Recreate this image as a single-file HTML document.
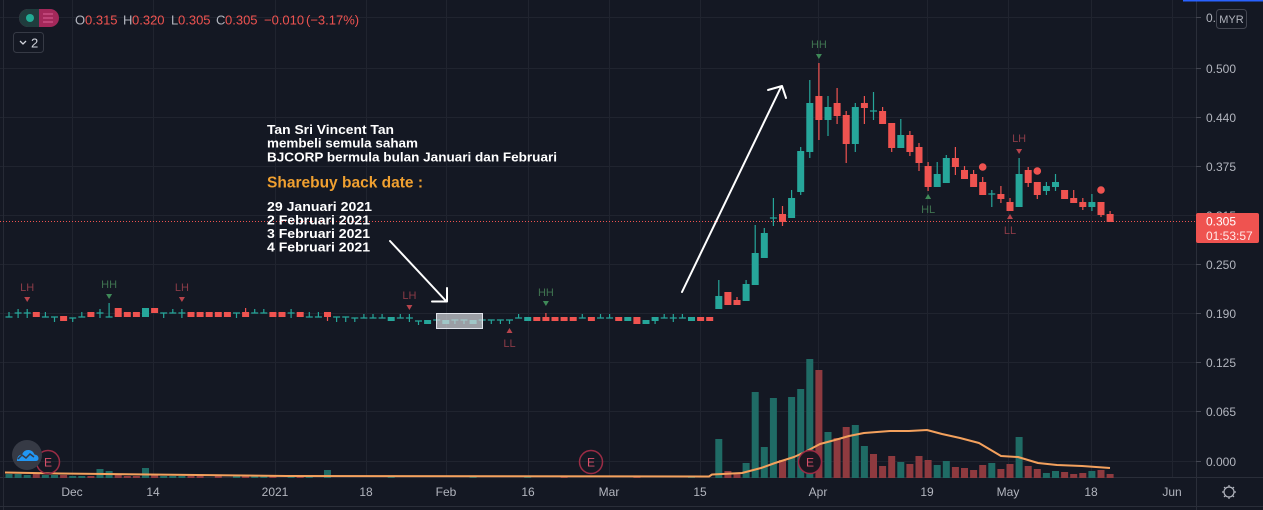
<!DOCTYPE html>
<html><head><meta charset="utf-8"><style>
html,body{margin:0;padding:0;background:#141823;}
svg{display:block;font-family:"Liberation Sans",sans-serif;}
</style></head><body>
<svg width="1263" height="510" viewBox="0 0 1263 510" xmlns="http://www.w3.org/2000/svg">
<rect width="1263" height="510" fill="#141823"/>
<!-- grid -->
<g stroke="#20242f" stroke-width="1">
<path d="M0 17.5H1196M0 68.5H1196M0 117.5H1196M0 166.5H1196M0 215.5H1196M0 264.5H1196M0 313.5H1196M0 362.5H1196M0 411.5H1196M0 461.5H1196"/>
<path d="M72.5 0V477M153.5 0V477M275.5 0V477M366.5 0V477M446.5 0V477M528.5 0V477M609.5 0V477M700.5 0V477M818.5 0V477M927.5 0V477M1008.5 0V477M1091.5 0V477M1172.5 0V477"/>
</g>
<path d="M3.5 0V510" stroke="#262a35" stroke-width="1"/>
<!-- axes borders -->
<path d="M1196.5 0V510M0 477.5H1263M0 506.5H1263" stroke="#2a2e39" stroke-width="1"/>
<path d="M1183 0.5H1263" stroke="#2962ff" stroke-width="2"/>
<!-- price ticks -->
<path d="M1196 17.5h5M1196 68.5h5M1196 117.5h5M1196 166.5h5M1196 215.5h5M1196 264.5h5M1196 313.5h5M1196 362.5h5M1196 411.5h5M1196 461.5h5" stroke="#434651"/>
<g fill="#b2b5be" font-size="12">
<text x="1206" y="22">0.</text>
<text x="1206" y="73">0.500</text>
<text x="1206" y="122">0.440</text>
<text x="1206" y="171">0.375</text>
<text x="1206" y="220">0.315</text>
<text x="1206" y="269">0.250</text>
<text x="1206" y="318">0.190</text>
<text x="1206" y="367">0.125</text>
<text x="1206" y="416">0.065</text>
<text x="1206" y="466">0.000</text>
</g>
<rect x="1216.5" y="9.5" width="30" height="19" rx="3" fill="#141823" stroke="#434651"/>
<text x="1231.5" y="23" font-size="11" fill="#b2b5be" text-anchor="middle">MYR</text>
<!-- time labels -->
<g fill="#b2b5be" font-size="12" text-anchor="middle">
<text x="72" y="496">Dec</text>
<text x="153" y="496">14</text>
<text x="275" y="496">2021</text>
<text x="366" y="496">18</text>
<text x="446" y="496">Feb</text>
<text x="528" y="496">16</text>
<text x="609" y="496">Mar</text>
<text x="700" y="496">15</text>
<text x="818" y="496">Apr</text>
<text x="927" y="496">19</text>
<text x="1008" y="496">May</text>
<text x="1091" y="496">18</text>
<text x="1172" y="496">Jun</text>
</g>
<!-- gear -->
<g stroke="#b2b5be" stroke-width="1.2" fill="none">
<circle cx="1229" cy="492" r="5"/>
<path d="M1229 485v2M1229 497v2M1222 492h2M1234 492h2M1224 487l1.4 1.4M1232.6 495.6l1.4 1.4M1234 487l-1.4 1.4M1225.4 495.6l-1.4 1.4"/>
</g>
<!-- volume bars -->
<g fill="#1f6b65">
<rect x="5.5" y="474" width="7" height="4"/><rect x="14.6" y="474" width="7" height="4"/><rect x="23.7" y="475" width="7" height="3"/><rect x="41.9" y="475" width="7" height="3"/><rect x="51" y="475" width="7" height="3"/><rect x="69.2" y="476" width="7" height="2"/><rect x="78.3" y="476" width="7" height="2"/><rect x="96.5" y="469" width="7" height="9"/><rect x="105.6" y="471" width="7" height="7"/><rect x="142" y="468" width="7" height="10"/><rect x="160.2" y="476" width="7" height="2"/><rect x="169.3" y="476" width="7" height="2"/><rect x="178.4" y="476" width="7" height="2"/><rect x="233" y="476" width="7" height="2"/><rect x="251.2" y="476" width="7" height="2"/><rect x="260.3" y="476" width="7" height="2"/><rect x="287.6" y="476" width="7" height="2"/><rect x="305.8" y="476" width="7" height="2"/><rect x="324" y="470" width="7" height="8"/><rect x="387.7" y="476" width="7" height="2"/><rect x="469.6" y="476" width="7" height="2"/><rect x="524.2" y="476" width="7" height="2"/><rect x="688" y="476" width="7" height="2"/>
<rect x="715.3" y="439" width="7" height="39"/><rect x="742.6" y="463" width="7" height="15"/><rect x="751.7" y="392" width="7" height="86"/><rect x="760.8" y="447" width="7" height="31"/><rect x="769.9" y="398" width="7" height="80"/><rect x="788.1" y="397" width="7" height="81"/><rect x="797.2" y="389" width="7" height="89"/><rect x="806.3" y="359" width="7" height="119"/><rect x="824.5" y="432" width="7" height="46"/><rect x="851.8" y="425" width="7" height="53"/><rect x="860.9" y="446" width="7" height="32"/><rect x="897.3" y="462" width="7" height="16"/><rect x="933.7" y="465" width="7" height="13"/><rect x="942.8" y="461" width="7" height="17"/><rect x="988.3" y="463" width="7" height="15"/><rect x="1015.6" y="437" width="7" height="41"/><rect x="1042.9" y="473" width="7" height="5"/><rect x="1052" y="471" width="7" height="7"/><rect x="1088.4" y="471" width="7" height="7"/>
</g>
<g fill="#8e3a3f">
<rect x="32.8" y="474" width="7" height="4"/><rect x="60.1" y="475" width="7" height="3"/><rect x="87.4" y="476" width="7" height="2"/><rect x="114.7" y="475" width="7" height="3"/><rect x="123.8" y="476" width="7" height="2"/><rect x="132.9" y="476" width="7" height="2"/><rect x="151.1" y="475" width="7" height="3"/><rect x="187.5" y="476" width="7" height="2"/><rect x="196.6" y="476" width="7" height="2"/><rect x="214.8" y="476" width="7" height="2"/><rect x="242.1" y="476" width="7" height="2"/><rect x="269.4" y="476" width="7" height="2"/><rect x="296.7" y="476" width="7" height="2"/><rect x="560.6" y="476" width="7" height="2"/><rect x="633.4" y="476" width="7" height="2"/>
<rect x="724.4" y="471" width="7" height="7"/><rect x="733.5" y="473" width="7" height="5"/><rect x="779" y="460" width="7" height="18"/><rect x="815.4" y="370" width="7" height="108"/><rect x="833.6" y="438" width="7" height="40"/><rect x="842.7" y="427" width="7" height="51"/><rect x="870" y="454" width="7" height="24"/><rect x="879.1" y="466" width="7" height="12"/><rect x="888.2" y="456" width="7" height="22"/><rect x="906.4" y="464" width="7" height="14"/><rect x="915.5" y="456" width="7" height="22"/><rect x="924.6" y="460" width="7" height="18"/><rect x="951.9" y="467" width="7" height="11"/><rect x="961" y="468" width="7" height="10"/><rect x="970.1" y="470" width="7" height="8"/><rect x="979.2" y="465" width="7" height="13"/><rect x="997.4" y="469" width="7" height="9"/><rect x="1006.5" y="464" width="7" height="14"/><rect x="1024.7" y="466" width="7" height="12"/><rect x="1033.8" y="469" width="7" height="9"/><rect x="1061.1" y="472" width="7" height="6"/><rect x="1070.2" y="474" width="7" height="4"/><rect x="1079.3" y="473" width="7" height="5"/><rect x="1097.5" y="470" width="7" height="8"/><rect x="1106.6" y="474" width="7" height="4"/>
</g>
<!-- volume MA -->
<path d="M5 472.5 L60 473.5 L150 474.5 L286 476 L709 476.5 L712 474.5 L742 473 L761 468 L775 463 L794 457 L805 452 L820 444 L835 440 L849 436 L864 433 L890 431 L909 431 L927 430 L942 434 L960 438 L979 443 L1001 456 L1018 457 L1038 463 L1057 465 L1082 466 L1110 468" fill="none" stroke="#f4a15d" stroke-width="2" stroke-linejoin="round"/>
<!-- earnings markers -->
<g stroke="#9b2c45" stroke-width="1.5">
<circle cx="48" cy="462" r="11.5" fill="none"/>
<circle cx="591" cy="462" r="11.5" fill="none"/>
<circle cx="810" cy="462" r="11.5" fill="#1b1620"/>
</g>
<g fill="#d9506a" font-size="12" text-anchor="middle">
<text x="48" y="466.5">E</text><text x="591" y="466.5">E</text><text x="810" y="466.5">E</text>
</g>
<!-- logo -->
<circle cx="27" cy="455" r="15" fill="#363a45"/>
<path d="M17 461 q0-6 5-6.5 q2-5 7-4.5 q4 0.5 5.5 4.5 q4 0.5 4 4 q0 2.5-3 2.5 z" fill="#2196f3"/>
<path d="M18 459 l4-4 l4 3 l4-4 l4 3" fill="none" stroke="#363a45" stroke-width="1.5"/>
<!-- price line -->
<path d="M0 221.5H1196" stroke="#ef5350" stroke-width="1" stroke-dasharray="1 2"/>
<!-- candle wicks/dojis teal -->
<path fill="none" stroke="#26a69a" stroke-width="1.2" d="M5.5 317H12.5M9 312V317M14.6 313H21.6M18.1 309V318M23.7 313H30.7M27.2 309V318M41.9 317H48.9M45.4 312V317M51 317H58M54.5 317V322M69.2 318H76.2M72.7 318V322M78.3 317H85.3M81.8 312V317M96.5 313H103.5M100 309V318M105.6 317H112.6M109.1 303V317M160.2 313H167.2M163.7 313V318M169.3 313H176.3M172.8 309V313M178.4 313H185.4M181.9 309V318M233 313H240M236.5 313V318M251.2 313H258.2M254.7 309V313M260.3 313H267.3M263.8 309V313M287.6 313H294.6M291.1 309V318M305.8 317H312.8M309.3 312V317M314.9 317H321.9M318.4 312V317M333.1 317H340.1M336.6 317V322M342.2 317H349.2M345.7 317V322M351.3 318H358.3M354.8 318V322M360.4 318H367.4M363.9 314V318M369.5 318H376.5M373 314V318M378.6 318H385.6M382.1 314V318M396.8 318H403.8M400.3 314V318M405.9 318H412.9M409.4 314V322M415 321H422M418.5 321V325M433.2 320H440.2M436.7 320V324M451.4 320H458.4M454.9 320V324M460.5 320H467.5M464 320V324M478.7 320H485.7M482.2 320V324M487.8 320H494.8M491.3 320V324M496.9 320H503.9M500.4 320V324M506 320H513M509.5 320V324M515.1 318H522.1M518.6 314V318M578.8 318H585.8M582.3 314V318M597 318H604M600.5 314V318M606.1 318H613.1M609.6 314V318M660.7 318H667.7M664.2 314V318M669.8 318H676.8M673.3 314V322M678.9 318H685.9M682.4 314V318M769.9 218H776.9M773.4 198V226M870 111H877M873.5 92V120M988.3 194H995.3M991.8 190V207M718.8 280V309M746.1 280V301M755.2 225V285M764.3 228V258M791.6 190V218M800.7 147V195M809.8 80V158M828 96V136M855.3 103V152M900.8 119V148M937.2 162V187M946.3 155V183M1019.1 158V207M1046.4 182V195M1055.5 174V191M1091.9 194V211M655.1 317V324"/>
<g fill="#26a69a">
<rect x="142" y="308" width="7" height="9"/><rect x="387.7" y="317" width="7" height="4"/><rect x="424.1" y="320" width="7" height="4"/><rect x="442.3" y="320" width="7" height="4"/><rect x="469.6" y="320" width="7" height="4"/><rect x="524.2" y="317" width="7" height="4"/><rect x="624.3" y="317" width="7" height="4"/><rect x="642.5" y="320" width="7" height="4"/><rect x="651.6" y="317" width="7" height="4"/><rect x="688" y="317" width="7" height="4"/><rect x="715.3" y="296" width="7" height="13"/><rect x="742.6" y="284" width="7" height="17"/><rect x="751.7" y="253" width="7" height="32"/><rect x="760.8" y="233" width="7" height="25"/><rect x="788.1" y="198" width="7" height="20"/><rect x="797.2" y="151" width="7" height="41"/><rect x="806.3" y="103" width="7" height="49"/><rect x="824.5" y="107" width="7" height="13"/><rect x="851.8" y="107" width="7" height="37"/><rect x="897.3" y="135" width="7" height="13"/><rect x="933.7" y="174" width="7" height="13"/><rect x="942.8" y="158" width="7" height="25"/><rect x="1015.6" y="174" width="7" height="33"/><rect x="1042.9" y="186" width="7" height="5"/><rect x="1052" y="182" width="7" height="5"/><rect x="1088.4" y="202" width="7" height="5"/>
</g>
<path fill="none" stroke="#ef5350" stroke-width="1.2" d="M245.6 308V312M327.5 317V321M545.9 313V317M737 297V300M782.5 206V226M818.9 63V140M837.1 88V124M846.2 111V163M864.4 96V124M882.6 107V124M891.7 123V152M909.9 131V156M919 143V171M928.1 162V191M955.4 147V175M964.5 166V179M973.6 170V187M982.7 177V195M1000.9 186V203M1010 198V211M1028.2 167V187M1037.3 182V199M1073.7 190V203M1082.8 198V210M1101 202V217M1110.1 211V222"/>
<g fill="#ef5350">
<rect x="32.8" y="312" width="7" height="5"/><rect x="60.1" y="316" width="7" height="5"/><rect x="87.4" y="312" width="7" height="5"/><rect x="114.7" y="308" width="7" height="9"/><rect x="123.8" y="312" width="7" height="5"/><rect x="132.9" y="312" width="7" height="5"/><rect x="151.1" y="308" width="7" height="5"/><rect x="187.5" y="312" width="7" height="5"/><rect x="196.6" y="312" width="7" height="5"/><rect x="205.7" y="312" width="7" height="5"/><rect x="214.8" y="312" width="7" height="5"/><rect x="223.9" y="312" width="7" height="5"/><rect x="242.1" y="312" width="7" height="5"/><rect x="269.4" y="312" width="7" height="5"/><rect x="278.5" y="312" width="7" height="5"/><rect x="296.7" y="312" width="7" height="5"/><rect x="324" y="312" width="7" height="5"/>
<rect x="533.3" y="317" width="7" height="4"/><rect x="542.4" y="317" width="7" height="4"/><rect x="551.5" y="317" width="7" height="4"/><rect x="560.6" y="317" width="7" height="4"/><rect x="569.7" y="317" width="7" height="4"/><rect x="587.9" y="317" width="7" height="4"/><rect x="615.2" y="317" width="7" height="4"/><rect x="633.4" y="317" width="7" height="7"/><rect x="697.1" y="317" width="7" height="4"/><rect x="706.2" y="317" width="7" height="4"/>
<rect x="724.4" y="292" width="7" height="13"/><rect x="733.5" y="300" width="7" height="5"/><rect x="779" y="214" width="7" height="8"/><rect x="815.4" y="96" width="7" height="24"/><rect x="833.6" y="103" width="7" height="13"/><rect x="842.7" y="115" width="7" height="29"/><rect x="860.9" y="103" width="7" height="5"/><rect x="879.1" y="111" width="7" height="13"/><rect x="888.2" y="123" width="7" height="25"/><rect x="906.4" y="135" width="7" height="17"/><rect x="915.5" y="147" width="7" height="16"/><rect x="924.6" y="166" width="7" height="21"/><rect x="951.9" y="158" width="7" height="9"/><rect x="961" y="170" width="7" height="9"/><rect x="970.1" y="174" width="7" height="13"/><rect x="979.2" y="182" width="7" height="13"/><rect x="997.4" y="194" width="7" height="5"/><rect x="1006.5" y="202" width="7" height="9"/><rect x="1024.7" y="170" width="7" height="13"/><rect x="1033.8" y="182" width="7" height="13"/><rect x="1061.1" y="190" width="7" height="9"/><rect x="1070.2" y="198" width="7" height="5"/><rect x="1079.3" y="202" width="7" height="5"/><rect x="1097.5" y="202" width="7" height="13"/><rect x="1106.6" y="214" width="7" height="8"/>
<circle cx="982.7" cy="167" r="3.8"/><circle cx="1037.3" cy="171" r="3.8"/><circle cx="1101" cy="190" r="3.8"/>
</g>
<!-- highlight box -->
<rect x="436.5" y="313.5" width="46" height="15" fill="#d0d2d8" fill-opacity="0.72" stroke="#e0e3eb" stroke-width="1"/>
<!-- pivot labels -->
<g font-size="11" text-anchor="middle">
<text x="27.2" y="291" fill="#8a3b47">LH</text>
<text x="109.1" y="288" fill="#3f7350">HH</text>
<text x="181.9" y="291" fill="#8a3b47">LH</text>
<text x="409.4" y="299" fill="#8a3b47">LH</text>
<text x="509.5" y="347" fill="#8a3b47">LL</text>
<text x="545.9" y="296" fill="#3f7350">HH</text>
<text x="818.9" y="48" fill="#3f7350">HH</text>
<text x="928.1" y="213" fill="#3f7350">HL</text>
<text x="1019.1" y="142" fill="#8a3b47">LH</text>
<text x="1010" y="234" fill="#8a3b47">LL</text>
</g>
<g fill="#b8444c">
<path d="M24.2 297h6l-3 5z"/><path d="M178.9 297h6l-3 5z"/><path d="M406.4 305h6l-3 5z"/><path d="M1016.1 149h6l-3 5z"/>
<path d="M506.5 333h6l-3-5z"/><path d="M1007 219h6l-3-5z"/>
</g>
<g fill="#3f8a58">
<path d="M106.1 294h6l-3 5z"/><path d="M542.9 301h6l-3 5z"/><path d="M815.9 54h6l-3 5z"/><path d="M925.1 199h6l-3-5z"/>
</g>
<!-- arrows -->
<g fill="none" stroke="#ffffff" stroke-width="2" stroke-linecap="round" stroke-linejoin="round">
<path d="M390 241 L446 301"/>
<path d="M432 301.5 H447 V288"/>
<path d="M682 292 L781 87"/>
<path d="M768 90 L782 86 L786 98"/>
</g>
<!-- annotation -->
<g fill="#ffffff" font-weight="bold" font-size="12.5">
<text x="267" y="134" textLength="127" lengthAdjust="spacingAndGlyphs">Tan Sri Vincent Tan</text>
<text x="267" y="147.5" textLength="151" lengthAdjust="spacingAndGlyphs">membeli semula saham</text>
<text x="267" y="161.5" textLength="290" lengthAdjust="spacingAndGlyphs">BJCORP bermula bulan Januari dan Februari</text>
<text x="267" y="211" textLength="105" lengthAdjust="spacingAndGlyphs">29 Januari 2021</text>
<text x="267" y="224.5" textLength="103" lengthAdjust="spacingAndGlyphs">2 Februari 2021</text>
<text x="267" y="238" textLength="103" lengthAdjust="spacingAndGlyphs">3 Februari 2021</text>
<text x="267" y="251.5" textLength="103" lengthAdjust="spacingAndGlyphs">4 Februari 2021</text>
</g>
<text x="267" y="187.5" fill="#f0a030" font-weight="bold" font-size="15.5" textLength="156" lengthAdjust="spacingAndGlyphs">Sharebuy back date :</text>
<!-- last price label -->
<rect x="1196" y="213" width="63" height="30" rx="2" fill="#ef5350"/>
<text x="1206" y="225.5" font-size="12" fill="#ffffff">0.305</text>
<text x="1206" y="240" font-size="12" fill="#ffe9e8">01:53:57</text>
<!-- top legend -->
<rect x="19" y="9" width="40" height="18" rx="9" fill="#a3285a"/>
<path d="M28 9 H39 V27 H28 A9 9 0 0 1 28 9 Z" fill="#1f3c3d"/>
<circle cx="30" cy="18" r="4" fill="#22ab94"/>
<path d="M43 14h10M43 18h10M43 22h10" stroke="#d0558a" stroke-width="1.3"/>
<g font-size="13">
<text x="75" y="24.5" fill="#b2b5be">O</text><text x="85" y="24.5" fill="#ef5350">0.315</text>
<text x="123" y="24.5" fill="#b2b5be">H</text><text x="132" y="24.5" fill="#ef5350">0.320</text>
<text x="171" y="24.5" fill="#b2b5be">L</text><text x="178" y="24.5" fill="#ef5350">0.305</text>
<text x="216" y="24.5" fill="#b2b5be">C</text><text x="225" y="24.5" fill="#ef5350">0.305</text>
<text x="264" y="24.5" fill="#ef5350">−0.010</text>
<text x="306" y="24.5" fill="#ef5350">(−3.17%)</text>
</g>
<rect x="13.5" y="32.5" width="30" height="20" rx="3" fill="none" stroke="#363a45"/>
<path d="M20 41 l3 3 l3 -3" fill="none" stroke="#d1d4dc" stroke-width="1.3"/>
<text x="31" y="47.5" font-size="13" fill="#d1d4dc">2</text>
</svg>
</body></html>
